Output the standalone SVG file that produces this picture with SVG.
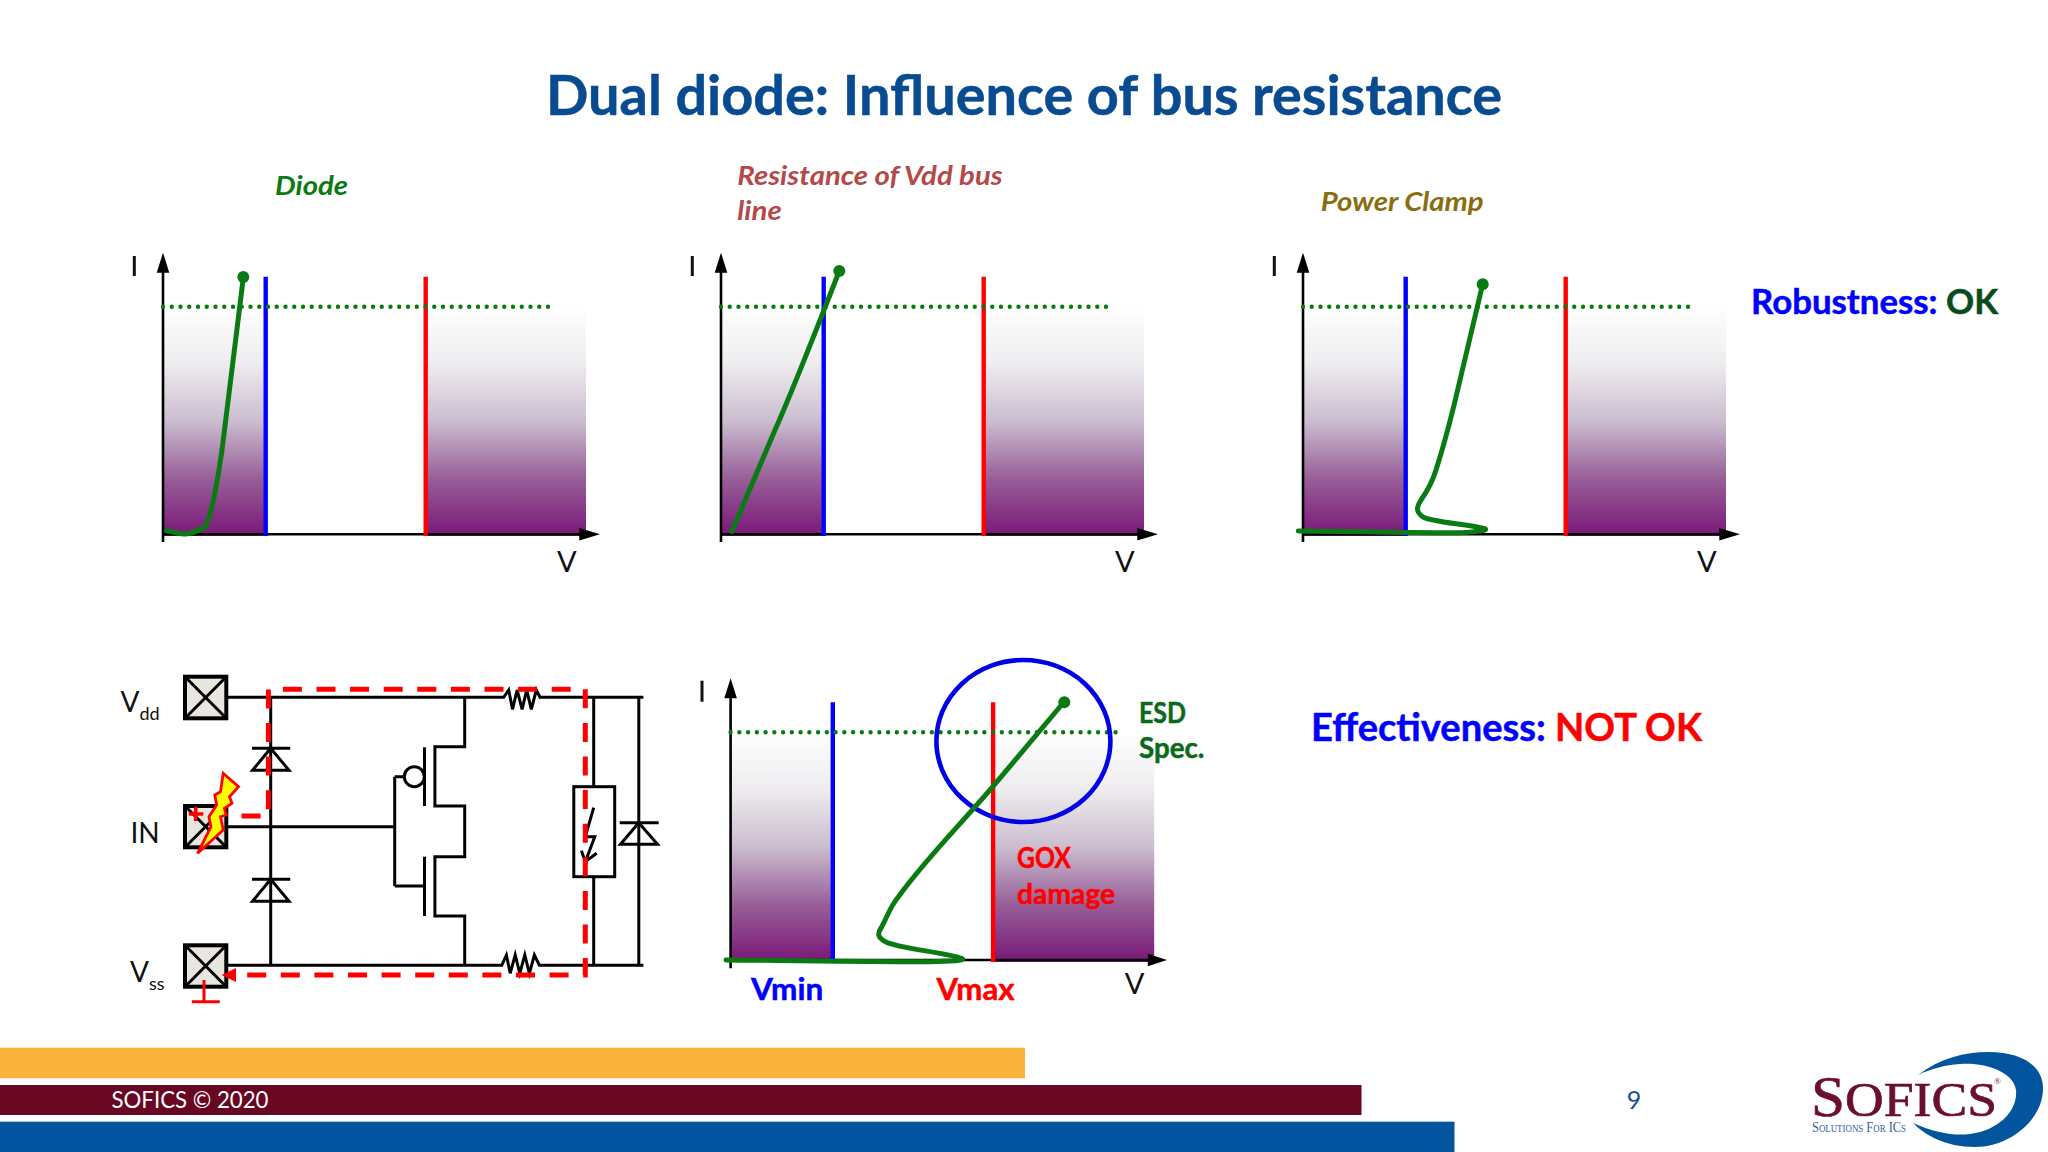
<svg xmlns="http://www.w3.org/2000/svg" width="2048" height="1152" viewBox="0 0 2048 1152">
<style>
text{font-family:"Lato","Open Sans","Liberation Sans",sans-serif}
.b{font-weight:700;stroke-width:.5px;paint-order:stroke}.bi{font-weight:700;font-style:italic}
.ax{stroke:#000;stroke-width:2.6;fill:none}
.head{fill:#000}
.bl{stroke:#0000ff;stroke-width:4.4;fill:none}
.rd{stroke:#ff0000;stroke-width:4.4;fill:none}
.dots{stroke:#0a7b12;stroke-width:4.4;stroke-linecap:round;stroke-dasharray:0 8.75;fill:none}
.cv{stroke:#0a7b12;stroke-width:5;fill:none;stroke-linecap:round;stroke-linejoin:round}
.dot{fill:#0a7b12}
.lab{font-size:29px;fill:#111}
.wire{stroke:#000;stroke-width:3;fill:none;stroke-linejoin:miter}
.pad{fill:#e8e6df;stroke:#000;stroke-width:4}
.padx{stroke:#000;stroke-width:3}
.dash{stroke:#ff0000;stroke-width:5;stroke-dasharray:19 14.6;fill:none}
.red{fill:#ff0000;stroke:#ff0000}.blue{fill:#0000ff;stroke:#0000ff}.dg{fill:#0a6a1a;stroke:#0a6a1a}
</style>
<defs>
<linearGradient id="fade" x1="0" y1="0" x2="0" y2="1">
<stop offset="0" stop-color="#ffffff"/><stop offset=".25" stop-color="#eeecef"/><stop offset=".5" stop-color="#cbbdcf"/><stop offset=".75" stop-color="#975f98"/><stop offset="1" stop-color="#7a1878"/>
</linearGradient>
<g id="chartBase">
<rect x="163" y="306" width="102.700" height="230" fill="url(#fade)"/>
<rect x="425.700" y="306" width="160.300" height="230" fill="url(#fade)"/>
<path class="ax" d="M163 272V542M163 534.300H580"/>
<path class="head" d="M163 252.700L169.300 272.700H156.700ZM600 534.300L579.300 528V540.600Z"/>
<path class="bl" d="M265.700 276.700V536"/>
<path class="rd" d="M425.700 276.700V536"/>
<path class="dots" d="M163 306.700H550"/>
<path stroke="#111" stroke-width="3" d="M134.300 256V276"/>
</g>
</defs>
<rect width="2048" height="1152" fill="#ffffff"/>

<text id="title" class="b" x="546" y="115" font-size="56" fill="#084b90" stroke="#084b90" textLength="956" lengthAdjust="spacingAndGlyphs">Dual diode: Influence of bus resistance</text>

<g id="chart-diode">
<use href="#chartBase"/>
<path class="cv" d="M166.700 530.700C172 531 178 535 186 534C193 533 200 530 205 527C212 515 217 485 222 450C228 405 236 340 243.300 277"/>
<circle class="dot" cx="243.300" cy="277" r="6"/>
<text class="bi" x="275" y="195" font-size="27" fill="#0a7b12" textLength="73" lengthAdjust="spacingAndGlyphs">Diode</text>
<text class="lab" x="566.700" y="571.500" text-anchor="middle">V</text>
</g>

<g id="chart-resistance">
<use href="#chartBase" x="558"/>
<path class="cv" d="M731.700 531.700L775 430C795 385 820 320 839.300 271"/>
<circle class="dot" cx="839.300" cy="271" r="6"/>
<text class="bi" font-size="27" fill="#b5494a"><tspan x="737.300" y="185" textLength="265.400" lengthAdjust="spacingAndGlyphs">Resistance of Vdd bus</tspan><tspan x="737.300" y="220" textLength="44.400" lengthAdjust="spacingAndGlyphs">line</tspan></text>
<text class="lab" x="1124.700" y="571.500" text-anchor="middle">V</text>
</g>

<g id="chart-clamp">
<use href="#chartBase" x="1140"/>
<path class="cv" d="M1298.300 531C1360 531.500 1430 533 1460 532.700C1478 532 1490 530 1484 528.500C1465 524 1432 522 1423 517C1416 512 1416 508 1421 500C1428 490 1432 483 1436 470C1444 445 1452 415 1460 380C1467 350 1474 320 1482.700 284"/>
<circle class="dot" cx="1482.700" cy="284.300" r="6"/>
<text class="bi" x="1320.700" y="210.700" font-size="27" fill="#8a6d0f" textLength="163" lengthAdjust="spacingAndGlyphs">Power Clamp</text>
<text class="lab" x="1706.700" y="571.500" text-anchor="middle">V</text>
</g>

<text id="robustness" class="b" x="1751" y="314" font-size="34" textLength="247" lengthAdjust="spacingAndGlyphs"><tspan class="blue">Robustness: </tspan><tspan fill="#0b4a1c" stroke="#0b4a1c">OK</tspan></text>

<g id="chart-total">
<rect x="730.600" y="732" width="102.200" height="230" fill="url(#fade)"/>
<rect x="993.100" y="732" width="161.100" height="230" fill="url(#fade)"/>
<path class="ax" d="M730.600 698V968.300M730.600 960H1148"/>
<path class="head" d="M730.600 678.300L736.900 698.300H724.300ZM1167 960L1147.800 953.700V966.300Z"/>
<path class="bl" d="M832.800 702.300V962"/>
<path class="rd" d="M993.100 702.300V962"/>
<path class="dots" d="M730.600 732.300H1117"/>
<path stroke="#111" stroke-width="3" d="M702 680.700V701.700"/>
<ellipse cx="1023.400" cy="741" rx="87" ry="81" fill="none" stroke="#0000e6" stroke-width="4.600"/>
<path class="cv" d="M726 960C790 960.500 880 962 930 961.700C950 961.500 966 960.500 962 958.500C945 952 900 949 886 942C878 938 877 934 881 928C886 920 889 908 899 896C925 860 960 825 992.800 786.700L1064 702"/>
<circle class="dot" cx="1064.300" cy="702.300" r="6"/>
<text class="b dg" font-size="29"><tspan x="1139" y="722.500" textLength="47" lengthAdjust="spacingAndGlyphs">ESD</tspan><tspan x="1139" y="758" textLength="65.400" lengthAdjust="spacingAndGlyphs">Spec.</tspan></text>
<text class="b red" font-size="29"><tspan x="1017" y="867.500" textLength="54" lengthAdjust="spacingAndGlyphs">GOX</tspan><tspan x="1017" y="904" textLength="98.200" lengthAdjust="spacingAndGlyphs">damage</tspan></text>
<text class="b blue" x="750.900" y="1000" font-size="31" textLength="72.300" lengthAdjust="spacingAndGlyphs">Vmin</text>
<text class="b red" x="936.500" y="1000" font-size="31" textLength="78" lengthAdjust="spacingAndGlyphs">Vmax</text>
<text class="lab" x="1134.500" y="994" text-anchor="middle">V</text>
</g>

<text id="effectiveness" class="b" x="1311" y="741" font-size="39" textLength="391" lengthAdjust="spacingAndGlyphs"><tspan class="blue">Effectiveness: </tspan><tspan class="red">NOT OK</tspan></text>

<g id="connectors">
<path class="wire" d="M226 697.300H503.700L508.700 690L512.500 709.300L517.100 690L522.100 709.300L526.700 690L531.300 709.300L536.300 690L540 697.300H643.400"/>
<path class="wire" d="M226 965.300H501.800L506.400 955L510.200 973.300L515.200 955L519.800 973.300L524.800 955L529.400 973.300L534.400 955L539.400 965.300H643.400"/>
<path class="wire" d="M270.700 697.300V965.300"/>
<path class="wire" d="M226 826.700H394.700"/>
<path class="wire" d="M394.700 886H424.500M394.700 776.700V886M394.700 776.700H404"/>
<path class="wire" d="M464.700 697.300V746.700H434.900V806H464.700V856.700H434.900V916H464.700V965.300"/>
<path class="wire" d="M593.700 697.300V786.700M593.700 876.700V965.300"/>
<path class="wire" d="M638.800 697.300V965.300"/>
</g>

<g id="pad-vdd"><rect class="pad" x="185" y="676.700" width="41.300" height="41.600"/><path class="padx" d="M185 676.700L226.300 718.300M226.300 676.700L185 718.300"/></g>
<g id="pad-in"><rect class="pad" x="185" y="806" width="41.300" height="41.300"/><path class="padx" d="M185 806L226.300 847.300M226.300 806L185 847.300"/></g>
<g id="pad-vss"><rect class="pad" x="185" y="945.300" width="41.300" height="41.400"/><path class="padx" d="M185 945.300L226.300 986.700M226.300 945.300L185 986.700"/></g>

<g id="diode-top"><path class="wire" d="M252 748.300H290.200M270.700 748.300L252.500 770.300H289Z"/></g>
<g id="diode-bottom"><path class="wire" d="M252 879.300H290.200M270.700 879.300L252.500 901.300H289Z"/></g>
<g id="diode-clamp"><path class="wire" d="M619.700 822.700H658.700M638.800 822.700L620.500 844.300H657.500Z"/></g>
<g id="pmos"><circle class="wire" cx="414.300" cy="776.700" r="10" style="fill:#fff"/><path class="wire" d="M424.500 747.300V806"/></g>
<g id="nmos"><path class="wire" d="M424.500 856.700V916"/></g>
<g id="clamp"><rect class="wire" x="573.800" y="786.700" width="40.900" height="90" style="fill:#fff"/><path class="wire" d="M593.700 807.700L585.300 836.700H594.800L585.300 861.700M581.400 850.700L585.300 861.700L596.700 853.300"/></g>

<g id="esd-path">
<path class="dash" d="M241.600 816H268.400V689.300H585.300V975H234"/>
<path fill="#ff0000" d="M221.700 975L236 968V982Z"/>
<path stroke="#ff0000" stroke-width="3.600" d="M188.800 814H203.300M195.700 807V821"/>
<path fill="#ffff00" stroke="#ff0000" stroke-width="2.800" d="M223.200 773.300L238.500 786.700L229.400 796.700L232 803.300L224.400 808.300L226.300 815L220.500 816.700L223.200 830L197.600 853.300L211 826.700L209 816.700L216.700 805L214.800 795L220.500 791.700Z"/>
<path stroke="#ff0000" stroke-width="3" d="M204 980V1001.700M191.800 1001.700H219.800"/>
</g>

<g id="circuit-labels">
<text x="120.500" y="711.700" font-size="28" fill="#111">V<tspan font-size="18" dy="8">dd</tspan></text>
<text x="130.500" y="843" font-size="28" fill="#111">IN</text>
<text x="130" y="981.700" font-size="28" fill="#111">V<tspan font-size="18" dy="8">ss</tspan></text>
</g>

<g id="footer">
<rect y="1047.700" width="1025" height="30.600" fill="#fab43c"/>
<rect y="1085" width="1361.500" height="30" fill="#690722"/>
<rect y="1121.700" width="1454.500" height="30.300" fill="#02549f"/>
<text x="111.500" y="1108" font-size="24" fill="#ffffff" textLength="157" lengthAdjust="spacingAndGlyphs">SOFICS © 2020</text>
<text x="1634" y="1108.500" font-size="25" fill="#1c4f8f" text-anchor="middle">9</text>
</g>

<g id="logo">
<path fill="#02549f" d="M1918 1075C1940 1058 1965 1052 1988 1052C2025 1052 2044 1068 2043 1090C2042 1120 2010 1147 1975 1147C1945 1147 1925 1135 1913 1123C1935 1133 1955 1136 1970 1134C2000 1130 2018 1110 2016 1090C2014 1072 1985 1062 1960 1064C1945 1065 1930 1069 1918 1075Z"/>
<text x="1811" y="1115.700" fill="#6a0f2e" stroke="#6a0f2e" stroke-width=".7" font-size="49" textLength="186" lengthAdjust="spacingAndGlyphs" style="font-family:'Liberation Serif',serif"><tspan font-size="56">S</tspan>OFICS</text>
<text x="1994" y="1084" fill="#6a0f2e" font-size="9" style="font-family:'Liberation Serif',serif">®</text>
<text x="1812" y="1131.500" fill="#2f5f9f" font-size="14" textLength="94" lengthAdjust="spacingAndGlyphs" style="font-family:'Liberation Serif',serif;font-variant:small-caps">Solutions For ICs</text>
</g>
</svg>
